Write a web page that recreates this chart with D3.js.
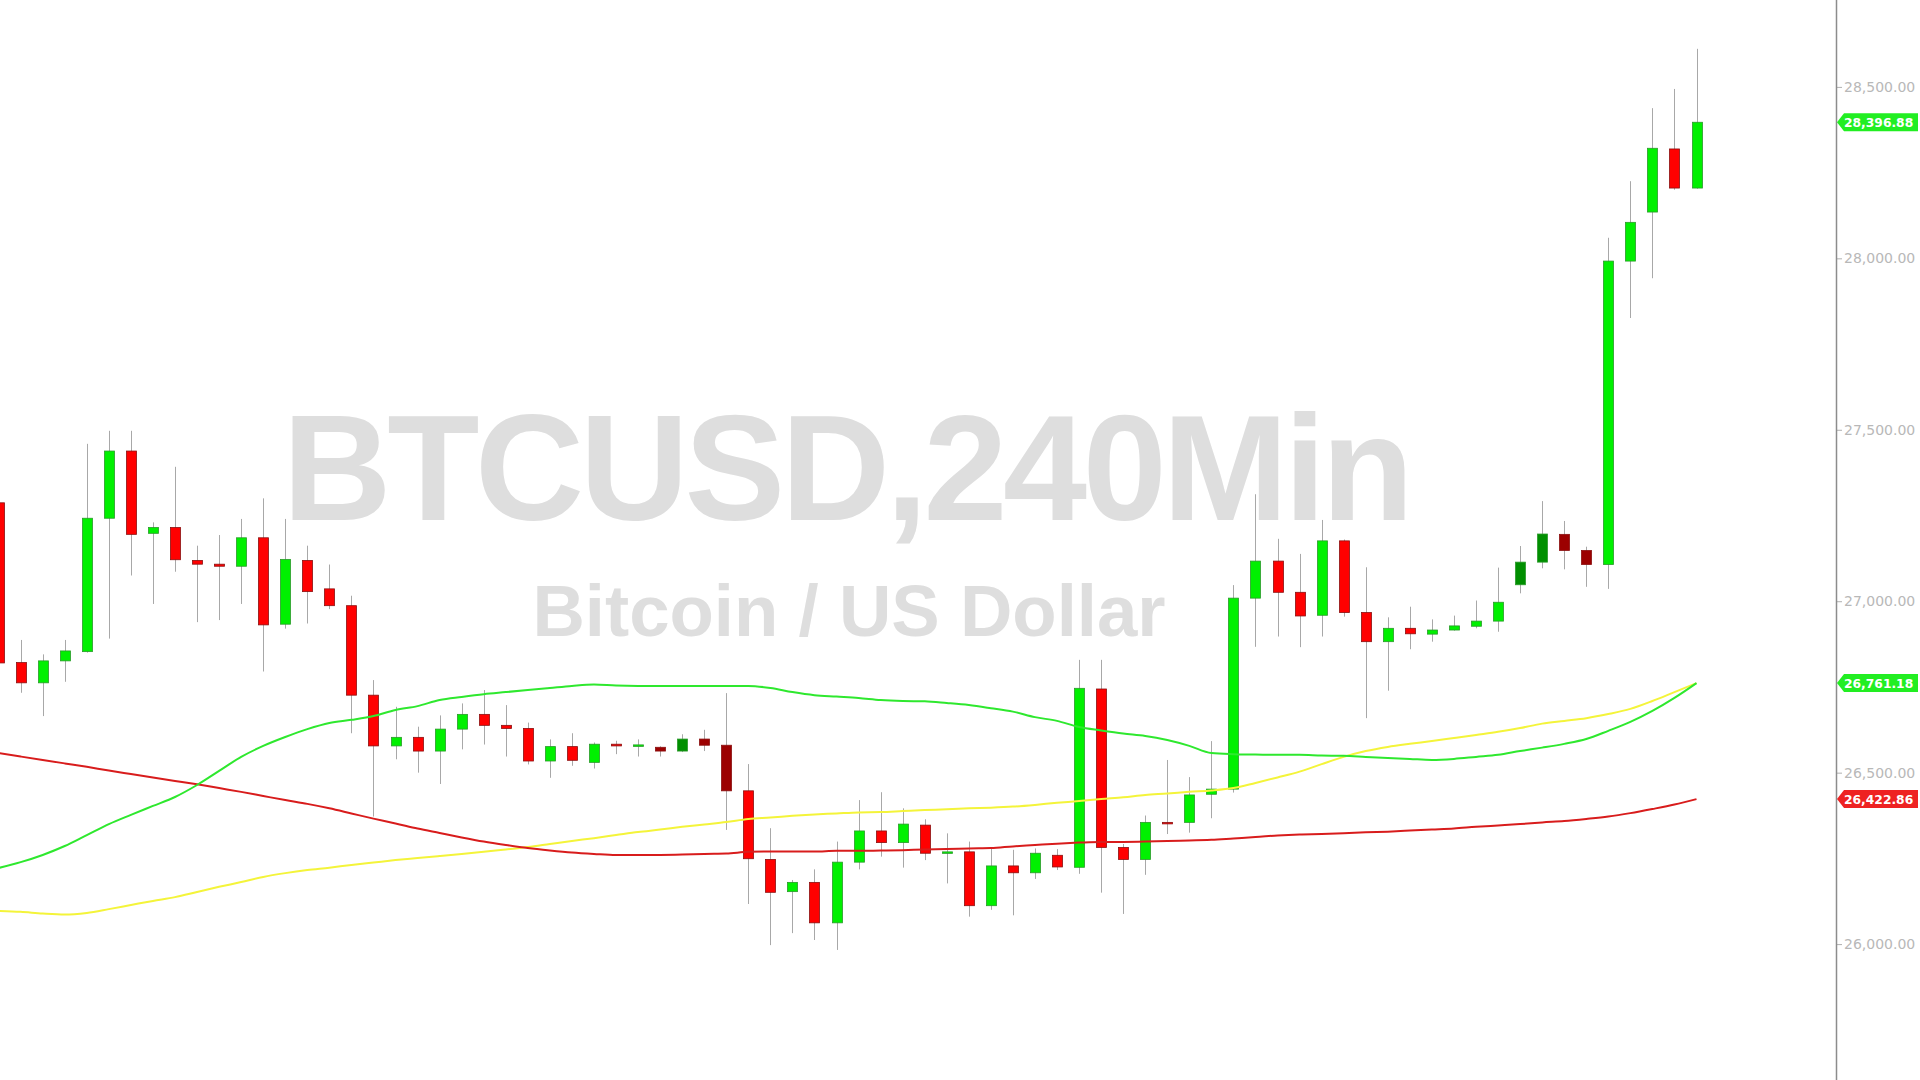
<!DOCTYPE html>
<html>
<head>
<meta charset="utf-8">
<script src="https://cdn.jsdelivr.net/npm/d3@7"></script>
<style>
  html, body { margin: 0; padding: 0; background: #ffffff; }
  svg { display: block; }
</style>
</head>
<body>
<svg id="chart" width="1920" height="1080"></svg>
<script>
// ---- data (BTCUSD, 240 min candles) ----
const title = "BTCUSD,240Min";
const subtitle = "Bitcoin / US Dollar";

const open  = [27287,26821,26762,26826,26853,27242,27438,27198,27215,27119,
               27108,27102,27185,26933,27119,27036,26987,26726,26578,26603,
               26563,26627,26670,26638,26629,26534,26576,26530,26583,26577,
               26574,26563,26598,26580,26447,26247,26153,26180,26062,26239,
               26330,26296,26347,26265,26269,26112,26228,26208,26259,26224,
               26744,26282,26247,26355,26355,26437,26452,27009,27117,27026,
               26959,27176,26967,26882,26921,26904,26916,26927,26942,27048,
               27114,27195,27148,27107,27992,28135,28319,28205];
const high  = [27300,26887,26845,26887,27459,27497,27497,27230,27392,27162,
               27193,27240,27300,27240,27162,27107,27016,26770,26692,26634,
               26667,26702,26741,26697,26646,26597,26615,26588,26593,26597,
               26577,26612,26625,26732,26525,26338,26187,26218,26299,26420,
               26443,26396,26364,26323,26299,26282,26275,26279,26277,26829,
               26829,26292,26375,26537,26487,26592,27047,27312,27182,27138,
               27237,27180,27099,26953,26984,26947,26958,27002,27098,27161,
               27292,27234,27159,28060,28225,28438,28494,28611];
const low   = [26810,26733,26665,26765,26850,26891,27075,26992,27086,26939,
               26945,26992,26795,26920,26935,26977,26615,26372,26539,26500,
               26467,26568,26582,26547,26524,26485,26520,26512,26554,26547,
               26547,26560,26563,26333,26117,25997,26032,26012,25983,26218,
               26255,26223,26245,26177,26080,26100,26084,26190,26216,26205,
               26150,26088,26202,26321,26325,26367,26442,26867,26897,26866,
               26897,26955,26659,26739,26860,26882,26914,26921,26911,27023,
               27096,27093,27042,27036,27826,27942,28200,28203];
const close = [26820,26762,26826,26855,27242,27438,27195,27215,27121,27108,
               27102,27185,26931,27122,27028,26987,26726,26578,26603,26563,
               26627,26670,26638,26629,26534,26576,26536,26583,26578,26581,
               26563,26598,26580,26447,26249,26151,26180,26062,26239,26330,
               26296,26350,26265,26269,26112,26228,26208,26265,26225,26746,
               26282,26247,26355,26353,26435,26452,27009,27117,27026,26957,
               27176,26967,26882,26921,26905,26916,26928,26942,26997,27114,
               27196,27148,27107,27992,28105,28321,28205,28396.88];
// candles the source paints in the muted (weak) shade
const weakCandles = [30,31,32,33,69,70,71,72];

// moving averages
const maFast = [26222,26239,26260,26286,26318,26350,26377,26403,26429,26464,
                26505,26546,26578,26604,26627,26645,26654,26665,26683,26694,
                26712,26721,26729,26735,26741,26747,26753,26757,26754,26753,
                26753,26753,26753,26753,26753,26747,26735,26726,26722,26718,
                26712,26709,26708,26703,26697,26688,26678,26662,26651,26633,
                26623,26614,26607,26595,26578,26557,26554,26553,26552,26552,
                26550,26549,26546,26543,26540,26537,26540,26546,26552,26563,
                26573,26584,26598,26622,26648,26680,26718,26761.18];
const maMid  = [26097,26094,26089,26086,26091,26102,26114,26126,26137,26152,
                26167,26181,26196,26207,26216,26223,26231,26238,26245,26251,
                26257,26263,26269,26276,26283,26292,26301,26309,26318,26327,
                26334,26342,26349,26356,26365,26369,26374,26378,26381,26384,
                26385,26388,26391,26393,26396,26398,26401,26406,26412,26417,
                26423,26428,26435,26439,26444,26448,26455,26470,26486,26503,
                26525,26546,26563,26575,26584,26592,26601,26610,26619,26630,
                26643,26651,26659,26671,26686,26709,26735,26761];
const maSlow = [26557,26547,26537,26527,26517,26506,26496,26486,26476,26466,
                26455,26444,26432,26420,26409,26396,26381,26366,26352,26337,
                26324,26311,26299,26289,26280,26273,26267,26263,26260,26260,
                26260,26261,26263,26264,26269,26270,26270,26270,26272,26272,
                26273,26274,26276,26277,26279,26280,26285,26289,26293,26296,
                26298,26298,26299,26301,26302,26304,26308,26312,26317,26320,
                26321,26323,26326,26328,26331,26334,26337,26342,26346,26350,
                26355,26359,26365,26372,26382,26394,26407,26422.86];

const yTicks = [26000, 26500, 27000, 27500, 28000, 28500];
const priceTags = [
  {value: 28396.88, kind: "up"},
  {value: 26761.18, kind: "up"},
  {value: 26422.86, kind: "down"}
];

// ---- layout ----
const W = 1920, H = 1080;
const axisX = 1836;
const svg = d3.select("#chart");

svg.append("rect").attr("width", W).attr("height", H).attr("fill", "#ffffff");

const idx = d3.range(open.length);
const x = d3.scaleLinear().domain([0, open.length - 1]).range([-1.4, 1696.5]);
const y = d3.scaleLinear().domain([26000, 28500]).range([944.1, 86.9]);

// clip for plot area
svg.append("defs").append("clipPath").attr("id", "plotClip")
  .append("rect").attr("x", 0).attr("y", 0).attr("width", axisX).attr("height", H);

// watermark
const wm = svg.append("g").attr("font-family", "'Liberation Sans', Arial, sans-serif")
  .attr("font-weight", "bold").attr("fill", "#dedede").attr("text-anchor", "middle");
wm.append("text").attr("x", 846).attr("y", 520).attr("font-size", 151)
  .attr("letter-spacing", "-4.3px").text(title);
wm.append("text").attr("x", 849).attr("y", 636).attr("font-size", 72.6)
  .text(subtitle);

const plot = svg.append("g").attr("clip-path", "url(#plotClip)");

// wicks
plot.append("g").selectAll("line").data(idx).join("line")
  .attr("x1", i => Math.round(x(i)) + 0.5).attr("x2", i => Math.round(x(i)) + 0.5)
  .attr("y1", i => y(high[i])).attr("y2", i => y(low[i]))
  .attr("stroke", "#a8a8a8").attr("stroke-width", 1);

// bodies
const bodyW = 10;
function fillOf(i) {
  const up = close[i] >= open[i];
  const weak = weakCandles.includes(i);
  if (up) return weak ? "#008f00" : "#00f000";
  return weak ? "#9c0000" : "#ff0000";
}
function strokeOf(i) {
  const up = close[i] >= open[i];
  return up ? "#2a9a2a" : "#8a1010";
}
plot.append("g").selectAll("rect").data(idx).join("rect")
  .attr("x", i => Math.round(x(i)) + 0.5 - bodyW / 2)
  .attr("width", bodyW)
  .attr("y", i => y(Math.max(open[i], close[i])))
  .attr("height", i => Math.max(1.5, Math.abs(y(open[i]) - y(close[i]))))
  .attr("fill", fillOf)
  .attr("stroke", strokeOf)
  .attr("stroke-width", 0.8);

// moving averages
const line = d3.line().x((d, i) => x(i)).y(d => y(d)).curve(d3.curveMonotoneX);
const maDefs = [
  {data: maMid,  color: "#f4f43a"},
  {data: maSlow, color: "#d81c1c"},
  {data: maFast, color: "#2ee82e"}
];
plot.append("g").selectAll("path").data(maDefs).join("path")
  .attr("d", d => line(d.data))
  .attr("fill", "none")
  .attr("stroke", d => d.color)
  .attr("stroke-width", 2)
  .attr("stroke-linejoin", "round");

// price axis
const axis = d3.axisRight(y).tickValues(yTicks).tickSize(6).tickSizeOuter(0).tickPadding(2)
  .tickFormat(d3.format(",.2f"));
const axG = svg.append("g").attr("transform", `translate(${axisX},0)`).call(axis);
axG.select(".domain").remove();
axG.selectAll(".tick line").attr("stroke", "#b0b0b0");
axG.selectAll(".tick text").attr("fill", "#b8b8b8").attr("font-size", 14)
  .attr("font-family", "'DejaVu Sans', Verdana, sans-serif");
svg.append("line").attr("x1", axisX + 0.5).attr("x2", axisX + 0.5)
  .attr("y1", 0).attr("y2", H).attr("stroke", "#8c8c8c").attr("stroke-width", 1.5);

// price tags
const tagG = svg.append("g").selectAll("g").data(priceTags).join("g")
  .attr("transform", d => `translate(0,${y(d.value)})`);
tagG.append("path")
  .attr("d", `M${axisX + 1},0 L${axisX + 8},-9 L1918,-9 L1918,9 L${axisX + 8},9 Z`)
  .attr("fill", d => d.kind === "up" ? "#22ee22" : "#ee2222");
tagG.append("text")
  .attr("x", axisX + 8).attr("y", 0).attr("dy", "0.36em")
  .attr("fill", "#ffffff").attr("font-weight", "bold").attr("font-size", 12.3)
  .attr("font-family", "'DejaVu Sans', Verdana, sans-serif")
  .text(d => d3.format(",.2f")(d.value));
</script>
</body>
</html>
